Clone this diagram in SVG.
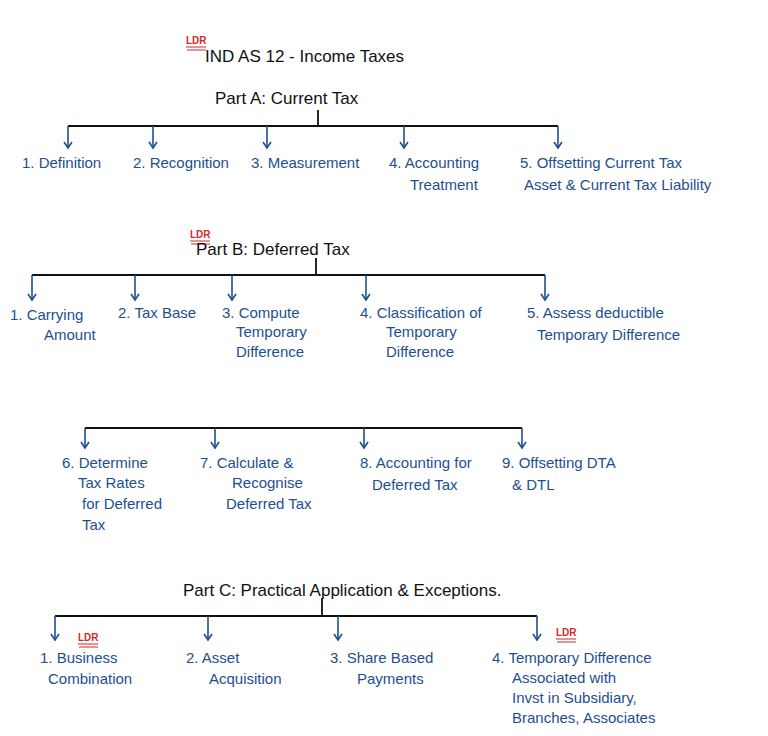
<svg xmlns="http://www.w3.org/2000/svg" width="768" height="736" viewBox="0 0 768 736">
<style>
.h{font-family:"Liberation Sans",sans-serif;font-size:17px;fill:#111}
.t{font-family:"Liberation Sans",sans-serif;font-size:15px;fill:#1d4f91}
.r{font-family:"Liberation Sans",sans-serif;font-size:10px;fill:#d42a2a;font-weight:bold}
.ru{stroke:#d42a2a;stroke-width:1.2;fill:none}
.k{stroke:#111;stroke-width:1.8;fill:none}
.a{stroke:#1d4f91;stroke-width:1.6;fill:none}
</style>
<defs><marker id="ar" markerWidth="12" markerHeight="12" refX="9" refY="5" orient="auto" markerUnits="userSpaceOnUse"><path d="M3,1 L9,5 L3,9" fill="none" stroke="#1d4f91" stroke-width="1.6"/></marker></defs>
<rect width="768" height="736" fill="#fff"/>
<g id="title"><text class="r" x="186" y="44">LDR</text><path class="ru" d="M186,47 h20 M187,50 h19"/><text class="h" x="205" y="62" font-size="21">IND AS 12 - Income Taxes</text></g>
<g id="partA"><text class="h" x="215" y="104">Part A: Current Tax</text></g>
<g id="partB"><text class="r" x="190" y="238">LDR</text><path class="ru" d="M190,241 h20 M191,244 h19"/><text class="h" x="196" y="255">Part B: Deferred Tax</text></g>
<g id="partC"><text class="h" x="183" y="596">Part C: Practical Application &amp; Exceptions.</text></g>
<g id="connectors">
<path class="k" d="M318,110 V126 M68,126 H558"/>
<path class="a" marker-end="url(#ar)" d="M68,126 V148"/><path class="a" marker-end="url(#ar)" d="M153,126 V148"/><path class="a" marker-end="url(#ar)" d="M267,126 V148"/><path class="a" marker-end="url(#ar)" d="M404,126 V148"/><path class="a" marker-end="url(#ar)" d="M558,126 V148"/>
<path class="k" d="M316,258 V275 M32,275 H545"/>
<path class="a" marker-end="url(#ar)" d="M32,275 V300"/><path class="a" marker-end="url(#ar)" d="M135,275 V300"/><path class="a" marker-end="url(#ar)" d="M232,275 V300"/><path class="a" marker-end="url(#ar)" d="M366,275 V300"/><path class="a" marker-end="url(#ar)" d="M545,275 V300"/>
<path class="k" d="M85,428 H522"/>
<path class="a" marker-end="url(#ar)" d="M85,428 V448"/><path class="a" marker-end="url(#ar)" d="M215,428 V448"/><path class="a" marker-end="url(#ar)" d="M364,428 V448"/><path class="a" marker-end="url(#ar)" d="M522,428 V448"/>
<path class="k" d="M322,598 V616 M55,616 H537"/>
<path class="a" marker-end="url(#ar)" d="M55,616 V640"/><path class="a" marker-end="url(#ar)" d="M208,616 V640"/><path class="a" marker-end="url(#ar)" d="M338,616 V640"/><path class="a" marker-end="url(#ar)" d="M537,616 V640"/>
</g>
<g id="a1"><text class="t" x="22" y="168">1. Definition</text></g>
<g id="a2"><text class="t" x="133" y="168">2. Recognition</text></g>
<g id="a3"><text class="t" x="251" y="168">3. Measurement</text></g>
<g id="a4"><text class="t" x="389" y="168">4. Accounting</text><text class="t" x="410" y="190">Treatment</text></g>
<g id="a5"><text class="t" x="520" y="168">5. Offsetting Current Tax</text><text class="t" x="524" y="190">Asset &amp; Current Tax Liability</text></g>
<g id="b1"><text class="t" x="10" y="320">1. Carrying</text><text class="t" x="44" y="340">Amount</text></g>
<g id="b2"><text class="t" x="118" y="318">2. Tax Base</text></g>
<g id="b3"><text class="t" x="222" y="318">3. Compute</text><text class="t" x="236" y="337">Temporary</text><text class="t" x="236" y="357">Difference</text></g>
<g id="b4"><text class="t" x="360" y="318">4. Classification of</text><text class="t" x="386" y="337">Temporary</text><text class="t" x="386" y="357">Difference</text></g>
<g id="b5"><text class="t" x="527" y="318">5. Assess deductible</text><text class="t" x="537" y="340">Temporary Difference</text></g>
<g id="b6"><text class="t" x="62" y="468">6. Determine</text><text class="t" x="78" y="488">Tax Rates</text><text class="t" x="82" y="509">for Deferred</text><text class="t" x="82" y="530">Tax</text></g>
<g id="b7"><text class="t" x="200" y="468">7. Calculate &amp;</text><text class="t" x="232" y="488">Recognise</text><text class="t" x="226" y="509">Deferred Tax</text></g>
<g id="b8"><text class="t" x="360" y="468">8. Accounting for</text><text class="t" x="372" y="490">Deferred Tax</text></g>
<g id="b9"><text class="t" x="502" y="468">9. Offsetting DTA</text><text class="t" x="512" y="490">&amp; DTL</text></g>
<g id="c1"><text class="r" x="78" y="641">LDR</text><path class="ru" d="M78,644 h20 M79,647 h19"/><text class="t" x="40" y="663">1. Business</text><text class="t" x="48" y="684">Combination</text></g>
<g id="c2"><text class="t" x="186" y="663">2. Asset</text><text class="t" x="209" y="684">Acquisition</text></g>
<g id="c3"><text class="t" x="330" y="663">3. Share Based</text><text class="t" x="357" y="684">Payments</text></g>
<g id="c4"><text class="r" x="556" y="636">LDR</text><path class="ru" d="M556,639 h20 M557,642 h19"/><text class="t" x="492" y="663">4. Temporary Difference</text><text class="t" x="512" y="683">Associated with</text><text class="t" x="512" y="703">Invst in Subsidiary,</text><text class="t" x="512" y="723">Branches, Associates</text></g>
</svg>
